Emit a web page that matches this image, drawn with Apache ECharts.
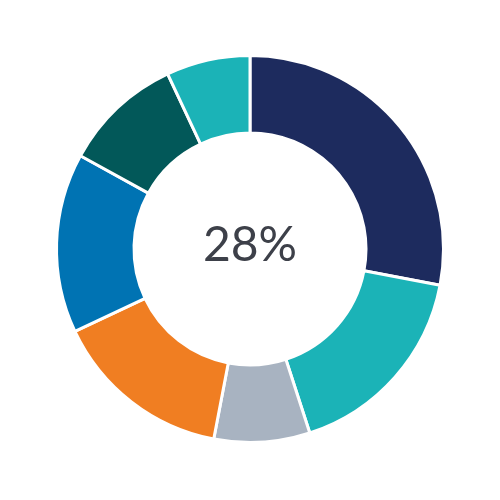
<!DOCTYPE html>
<html>
<head>
<meta charset="utf-8">
<style>
  html, body { margin: 0; padding: 0; background: #fff; }
  #chart { width: 500px; height: 500px; }
</style>
<script src="https://cdn.jsdelivr.net/npm/echarts@6/dist/echarts.min.js"></script>
</head>
<body>
<div id="chart"></div>
<script>
// slice data, clockwise from 12 o'clock
const segmentNames = ['A', 'B', 'C', 'D', 'E', 'F', 'G'];
const segmentValues = [28, 17, 8, 15, 15, 10, 7];
const segmentColors = ['#1d2b5e', '#1bb3b7', '#a8b3c1', '#f07e22', '#0073b3', '#025859', '#1bb3b7'];
const centerLabel = '28%';

const chart = echarts.init(document.getElementById('chart'));

chart.setOption({
    animation: false,
    graphic: [{
        type: 'text',
        left: 'center',
        top: 222,
        style: {
            text: centerLabel,
            font: 'normal 48px Lato',
            fill: '#3d4049'
        }
    }],
    series: [{
        type: 'pie',
        center: ['50%', '49.8%'],
        radius: ['46.4%', '77.4%'],
        startAngle: 90,
        clockwise: true,
        label: { show: false },
        labelLine: { show: false },
        itemStyle: { borderColor: '#fff', borderWidth: 3 },
        data: segmentNames.map((n, i) => ({
            name: n,
            value: segmentValues[i],
            itemStyle: { color: segmentColors[i] }
        }))
    }]
});
</script>
</body>
</html>
